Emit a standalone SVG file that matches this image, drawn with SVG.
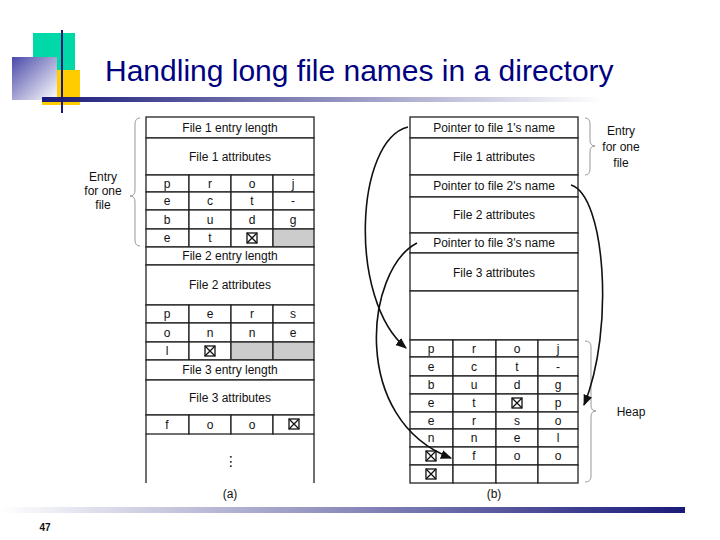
<svg xmlns="http://www.w3.org/2000/svg" width="720" height="540" viewBox="0 0 720 540">
<style>
.c{fill:#fff;stroke:#222;stroke-width:1.3}
.g{fill:#ccc;stroke:#222;stroke-width:1.3}
text{font-family:"Liberation Sans",Arial,sans-serif;font-size:12px;fill:#111;text-anchor:middle}
.br{fill:none;stroke:#999;stroke-width:1}
.ar{fill:none;stroke:#111;stroke-width:1.6;marker-end:url(#ah)}
.x{fill:none;stroke:#111;stroke-width:1.3}
</style>
<defs>
<marker id="ah" viewBox="0 0 10 10" refX="9" refY="5" markerWidth="7" markerHeight="7" orient="auto"><path d="M0,1 L10,5 L0,9 Z" fill="#111"/></marker>
<linearGradient id="hb" x1="0" x2="1"><stop offset="0" stop-color="#1a1a7a"/><stop offset="1" stop-color="#1a1a7a" stop-opacity="0"/></linearGradient>
<linearGradient id="bb" x1="0" x2="1"><stop offset="0" stop-color="#1a1a7a" stop-opacity="0"/><stop offset="1" stop-color="#1a1a7a"/></linearGradient>
<linearGradient id="sq" x1="0" y1="0" x2="1" y2="1"><stop offset="0" stop-color="#4a4aaa"/><stop offset="1" stop-color="#fff"/></linearGradient>
<symbol id="xb" viewBox="0 0 12 12"><rect x="1" y="1" width="10" height="10" class="x"/><path d="M1,1 L11,11 M11,1 L1,11" class="x"/></symbol>
</defs>
<g id="decor">
<rect x="33" y="33" width="42" height="38" fill="#00d8a8"/>
<rect x="42" y="70" width="38" height="35" fill="#ffcc00"/>
<rect x="12" y="57" width="45" height="43" fill="url(#sq)"/>
<rect x="42" y="97" width="560" height="5" fill="url(#hb)"/>
<line x1="62" y1="30" x2="62" y2="113" stroke="#1a1a7a" stroke-width="2"/>
<rect x="0" y="507" width="685" height="6" fill="url(#bb)"/>
<text x="105" y="81" style="font-size:30px;fill:#000080;text-anchor:start">Handling long file names in a directory</text>
<text x="45" y="531" style="font-size:10px;font-weight:bold">47</text>
</g>
<g id="tableA">
<rect class="c" x="146" y="117" width="168" height="21"/><text x="230" y="132">File 1 entry length</text>
<rect class="c" x="146" y="138" width="168" height="37"/><text x="230" y="161">File 1 attributes</text>
<g>
<rect class="c" x="146" y="175" width="43" height="17"/><rect class="c" x="189" y="175" width="42" height="17"/><rect class="c" x="231" y="175" width="42" height="17"/><rect class="c" x="273" y="175" width="41" height="17"/>
<text x="167" y="188">p</text><text x="210" y="188">r</text><text x="252" y="188">o</text><text x="293" y="188">j</text>
<rect class="c" x="146" y="192" width="43" height="18"/><rect class="c" x="189" y="192" width="42" height="18"/><rect class="c" x="231" y="192" width="42" height="18"/><rect class="c" x="273" y="192" width="41" height="18"/>
<text x="167" y="205">e</text><text x="210" y="205">c</text><text x="252" y="205">t</text><text x="293" y="205">-</text>
<rect class="c" x="146" y="210" width="43" height="19"/><rect class="c" x="189" y="210" width="42" height="19"/><rect class="c" x="231" y="210" width="42" height="19"/><rect class="c" x="273" y="210" width="41" height="19"/>
<text x="167" y="224">b</text><text x="210" y="224">u</text><text x="252" y="224">d</text><text x="293" y="224">g</text>
<rect class="c" x="146" y="229" width="43" height="18"/><rect class="c" x="189" y="229" width="42" height="18"/><rect class="c" x="231" y="229" width="42" height="18"/><rect class="g" x="273" y="229" width="41" height="18"/>
<text x="167" y="242">e</text><text x="210" y="242">t</text><use href="#xb" x="246" y="232" width="12" height="12"/>
</g>
<rect class="c" x="146" y="247" width="168" height="18"/><text x="230" y="260">File 2 entry length</text>
<rect class="c" x="146" y="265" width="168" height="40"/><text x="230" y="289">File 2 attributes</text>
<rect class="c" x="146" y="305" width="43" height="18"/><rect class="c" x="189" y="305" width="42" height="18"/><rect class="c" x="231" y="305" width="42" height="18"/><rect class="c" x="273" y="305" width="41" height="18"/>
<text x="167" y="318">p</text><text x="210" y="318">e</text><text x="252" y="318">r</text><text x="293" y="318">s</text>
<rect class="c" x="146" y="323" width="43" height="19"/><rect class="c" x="189" y="323" width="42" height="19"/><rect class="c" x="231" y="323" width="42" height="19"/><rect class="c" x="273" y="323" width="41" height="19"/>
<text x="167" y="337">o</text><text x="210" y="337">n</text><text x="252" y="337">n</text><text x="293" y="337">e</text>
<rect class="c" x="146" y="342" width="43" height="18"/><rect class="c" x="189" y="342" width="42" height="18"/><rect class="g" x="231" y="342" width="42" height="18"/><rect class="g" x="273" y="342" width="41" height="18"/>
<text x="167" y="355">l</text><use href="#xb" x="204" y="345" width="12" height="12"/>
<rect class="c" x="146" y="360" width="168" height="20"/><text x="230" y="374">File 3 entry length</text>
<rect class="c" x="146" y="380" width="168" height="35"/><text x="230" y="402">File 3 attributes</text>
<rect class="c" x="146" y="415" width="43" height="19"/><rect class="c" x="189" y="415" width="42" height="19"/><rect class="c" x="231" y="415" width="42" height="19"/><rect class="c" x="273" y="415" width="41" height="19"/>
<text x="167" y="429">f</text><text x="210" y="429">o</text><text x="252" y="429">o</text><use href="#xb" x="288" y="418" width="12" height="12"/>
<path d="M146,434 V483 M314,434 V483" stroke="#222" stroke-width="1.3"/>
<text x="231" y="466" style="font-family:'DejaVu Sans',sans-serif;font-size:14px">⋮</text>
<text x="230" y="498">(a)</text>
<path class="br" d="M140,118 Q135,118 135,124 V190 Q135,196 130,196 Q135,196 135,202 V240 Q135,246 140,246"/>
<text x="103" y="181">Entry</text><text x="103" y="195">for one</text><text x="103" y="209">file</text>
</g>
<g id="tableB">
<rect class="c" x="410" y="117" width="168" height="21"/><text x="494" y="132">Pointer to file 1's name</text>
<rect class="c" x="410" y="138" width="168" height="37"/><text x="494" y="161">File 1 attributes</text>
<rect class="c" x="410" y="175" width="168" height="22"/><text x="494" y="190">Pointer to file 2's name</text>
<rect class="c" x="410" y="197" width="168" height="36"/><text x="494" y="219">File 2 attributes</text>
<rect class="c" x="410" y="233" width="168" height="20"/><text x="494" y="247">Pointer to file 3's name</text>
<rect class="c" x="410" y="253" width="168" height="38"/><text x="494" y="277">File 3 attributes</text>
<rect class="c" x="410" y="291" width="168" height="49"/>
<g id="heap">
<g class="c">
<rect x="410" y="340" width="43" height="17"/><rect x="453" y="340" width="43" height="17"/><rect x="496" y="340" width="42" height="17"/><rect x="538" y="340" width="40" height="17"/>
<rect x="410" y="357" width="43" height="19"/><rect x="453" y="357" width="43" height="19"/><rect x="496" y="357" width="42" height="19"/><rect x="538" y="357" width="40" height="19"/>
<rect x="410" y="376" width="43" height="18"/><rect x="453" y="376" width="43" height="18"/><rect x="496" y="376" width="42" height="18"/><rect x="538" y="376" width="40" height="18"/>
<rect x="410" y="394" width="43" height="18"/><rect x="453" y="394" width="43" height="18"/><rect x="496" y="394" width="42" height="18"/><rect x="538" y="394" width="40" height="18"/>
<rect x="410" y="412" width="43" height="17"/><rect x="453" y="412" width="43" height="17"/><rect x="496" y="412" width="42" height="17"/><rect x="538" y="412" width="40" height="17"/>
<rect x="410" y="429" width="43" height="18"/><rect x="453" y="429" width="43" height="18"/><rect x="496" y="429" width="42" height="18"/><rect x="538" y="429" width="40" height="18"/>
<rect x="410" y="447" width="43" height="18"/><rect x="453" y="447" width="43" height="18"/><rect x="496" y="447" width="42" height="18"/><rect x="538" y="447" width="40" height="18"/>
<rect x="410" y="465" width="43" height="18"/><rect x="453" y="465" width="43" height="18"/><rect x="496" y="465" width="42" height="18"/><rect x="538" y="465" width="40" height="18"/>
</g>
<text x="431" y="353">p</text><text x="474" y="353">r</text><text x="517" y="353">o</text><text x="558" y="353">j</text>
<text x="431" y="371">e</text><text x="474" y="371">c</text><text x="517" y="371">t</text><text x="558" y="371">-</text>
<text x="431" y="389">b</text><text x="474" y="389">u</text><text x="517" y="389">d</text><text x="558" y="389">g</text>
<text x="431" y="407">e</text><text x="474" y="407">t</text><use href="#xb" x="511" y="397" width="12" height="12"/><text x="558" y="407">p</text>
<text x="431" y="425">e</text><text x="474" y="425">r</text><text x="517" y="425">s</text><text x="558" y="425">o</text>
<text x="431" y="442">n</text><text x="474" y="442">n</text><text x="517" y="442">e</text><text x="558" y="442">l</text>
<use href="#xb" x="425" y="450" width="12" height="12"/><text x="474" y="460">f</text><text x="517" y="460">o</text><text x="558" y="460">o</text>
<use href="#xb" x="425" y="468" width="12" height="12"/>
</g>
<text x="494" y="498">(b)</text>
<path class="br" d="M585,118 Q590,118 590,124 V140 Q590,146 595,146 Q590,146 590,152 V169 Q590,175 585,175"/>
<text x="621" y="135">Entry</text><text x="621" y="151">for one</text><text x="621" y="167">file</text>
<path class="br" d="M585,341 Q591,341 591,347 V405 Q591,411 596,411 Q591,411 591,417 V476 Q591,482 585,482"/>
<text x="631" y="416">Heap</text>
</g>
<g id="connectors">
<path class="ar" d="M408,127 C355,140 348,300 406,348"/>
<path class="ar" d="M571,185 C605,195 615,330 584,405"/>
<path class="ar" d="M417,243 C365,270 350,420 451,458"/>
</g>
</svg>
